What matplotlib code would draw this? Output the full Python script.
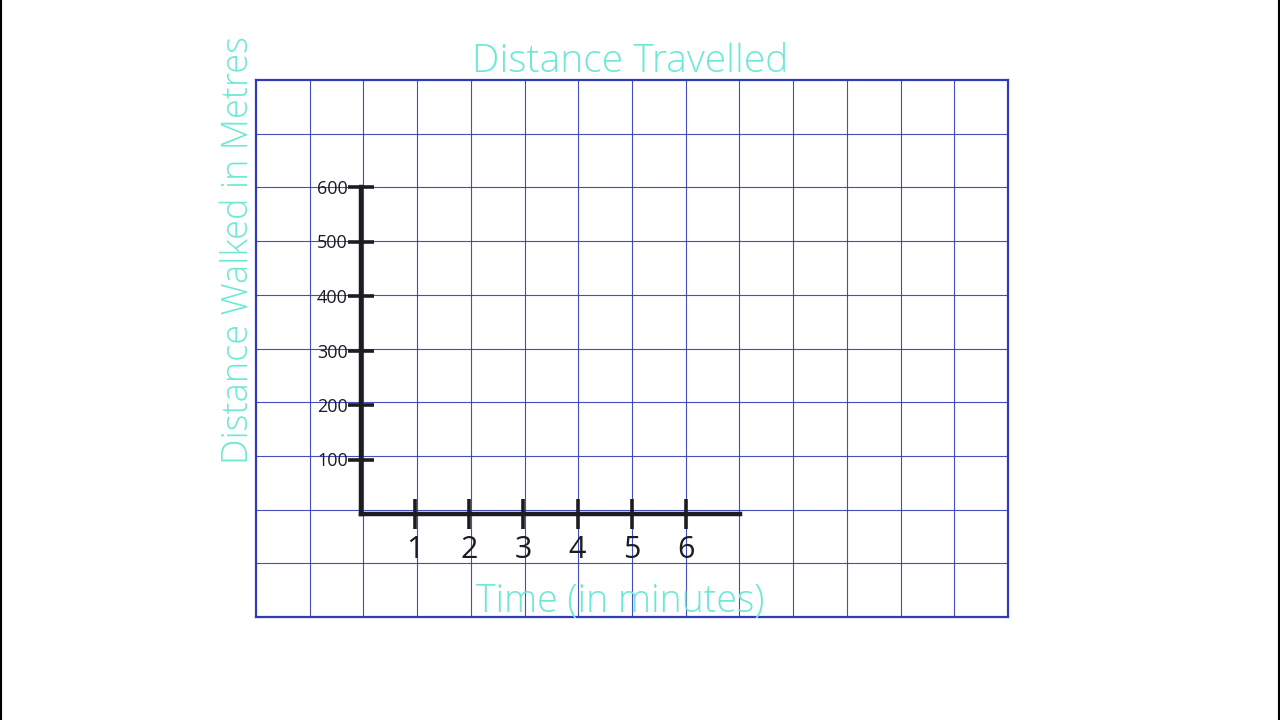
import matplotlib.pyplot as plt
from matplotlib.lines import Line2D

# axis values as drawn on the board
minutes = [1, 2, 3, 4, 5, 6]
metres = [100, 200, 300, 400, 500, 600]
x_max = 7
y_max = 600

# background graph paper: 14 x 10 squares
grid_cols = 14
grid_rows = 10

title = "Distance Travelled"
xlabel = "Time (in minutes)"
ylabel = "Distance Walked in Metres"

blue = "#2f3cb6"
cyan = "#6ee8d6"
ink = "#1c1c22"

fig = plt.figure(figsize=(12.8, 7.2), dpi=100)
fig.patch.set_facecolor("white")

# thin frame lines at the left and right edge of the frame
fig.add_artist(Line2D([0.001, 0.001], [0, 1], transform=fig.transFigure, color="black", lw=1.5))
fig.add_artist(Line2D([0.999, 0.999], [0, 1], transform=fig.transFigure, color="black", lw=1.5))

# graph paper
paper = fig.add_axes([256 / 1280, 1 - 617 / 720, 752 / 1280, 537 / 720])
paper.set_xlim(0, grid_cols)
paper.set_ylim(0, grid_rows)
for i in range(1, grid_cols):
    paper.axvline(i, color=blue, lw=0.8, alpha=0.9)
for j in range(1, grid_rows):
    paper.axhline(j, color=blue, lw=0.8, alpha=0.9)
for s in paper.spines.values():
    s.set_color(blue)
    s.set_linewidth(1.6)
paper.set_xticks([])
paper.set_yticks([])

# hand drawn axes
ax = fig.add_axes([361 / 1280, 1 - 514 / 720, 379 / 1280, 327 / 720])
ax.patch.set_alpha(0)
ax.set_xlim(0, x_max)
ax.set_ylim(0, y_max)
ax.spines["top"].set_visible(False)
ax.spines["right"].set_visible(False)
ax.spines["left"].set_linewidth(3.2)
ax.spines["bottom"].set_linewidth(3.2)
ax.spines["left"].set_color(ink)
ax.spines["bottom"].set_color(ink)
ax.set_xticks(minutes)
ax.set_xticklabels([str(m) for m in minutes])
ax.set_yticks(metres)
ax.set_yticklabels([str(m) for m in metres])
ax.tick_params(axis="x", direction="inout", length=22, width=2.6, color=ink,
               labelsize=22, labelcolor=ink, pad=4)
ax.tick_params(axis="y", direction="inout", length=19, width=2.6, color=ink,
               labelsize=13, labelcolor=ink, pad=0)
for lab in ax.get_yticklabels():
    lab.set_fontfamily("Open Sans")
for lab in ax.get_xticklabels():
    lab.set_fontfamily("Open Sans")

# cyan marker-pen labels
fig.text(630 / 1280, 1 - 62 / 720, title, color=cyan, fontsize=28,
         family="Open Sans", fontweight="light", ha="center", va="center")
fig.text(620 / 1280, 1 - 602 / 720, xlabel, color=cyan, fontsize=27,
         family="Open Sans", fontweight="light", ha="center", va="center")
fig.text(238 / 1280, 1 - 250 / 720, ylabel, color=cyan, fontsize=26,
         family="Open Sans", fontweight="light", rotation=90,
         ha="center", va="center")

fig.savefig("out.png", dpi=100)
